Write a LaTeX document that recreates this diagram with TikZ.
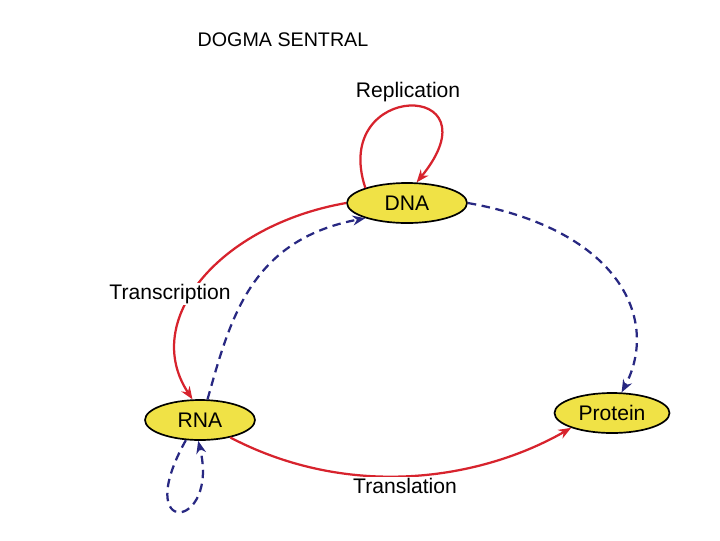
\documentclass[tikz,border=0pt]{standalone}
\usepackage{fontspec}
\setmainfont{Liberation Sans}
\usetikzlibrary{arrows.meta,shapes.geometric}
\definecolor{molfill}{RGB}{240,226,70}
\definecolor{redarr}{RGB}{215,35,45}
\definecolor{bluearr}{RGB}{40,40,130}
\tikzset{
    mol/.style = {draw, ellipse, line width=1.2pt, fill=molfill, minimum height=40*0.025cm, font=\fontsize{15}{17}\selectfont},
    solid arr/.style = {draw=redarr, line width=1.6pt, -{Stealth[length=9pt,width=7pt]}},
    dash arr/.style = {draw=bluearr, line width=1.6pt, dash pattern=on 6pt off 4pt, -{Stealth[length=9pt,width=7pt]}},
    lbl/.style = {fill=white, inner sep=1pt, font=\fontsize{15}{17}\selectfont}
}
\begin{document}
\begin{tikzpicture}[x=0.025cm,y=-0.025cm,>=Stealth]
    \useasboundingbox (0,0) rectangle (720,540);
    % Nodos
    \node [font=\fontsize{14}{16}\selectfont] (title) at (283,40) {DOGMA SENTRAL};
    \node [mol, minimum width=120*0.025cm] (dna) at (407,203) {DNA};
    \node [mol, minimum width=110*0.025cm] (rna) at (200,420) {RNA};
    \node [mol, minimum width=115*0.025cm] (protein) at (612,413) {Protein};

    % Flechas
    \draw [solid arr] (dna.160) .. controls (330,80) and (500,80) .. (dna.65);
    \draw [solid arr] (dna.west) .. controls (220,225) and (140,320) .. (rna.110);
    \draw [dash arr] (rna.70) .. controls (230,320) and (250,240) .. (dna.200);
    \draw [dash arr] (dna.east) .. controls (620,230) and (660,320) .. (protein.65);
    \draw [solid arr] (rna.-30) .. controls (350,500) and (480,480) .. (protein.200);
    \draw [dash arr] (rna.-125) .. controls (130,540) and (220,530) .. (rna.-95);

    % Rotulos
    \node [lbl] (replication) at (408,92) {Replication};
    \node [lbl] (transcription) at (170,294) {Transcription};
    \node [lbl] (translation) at (405,486) {Translation};
\end{tikzpicture}
\end{document}
